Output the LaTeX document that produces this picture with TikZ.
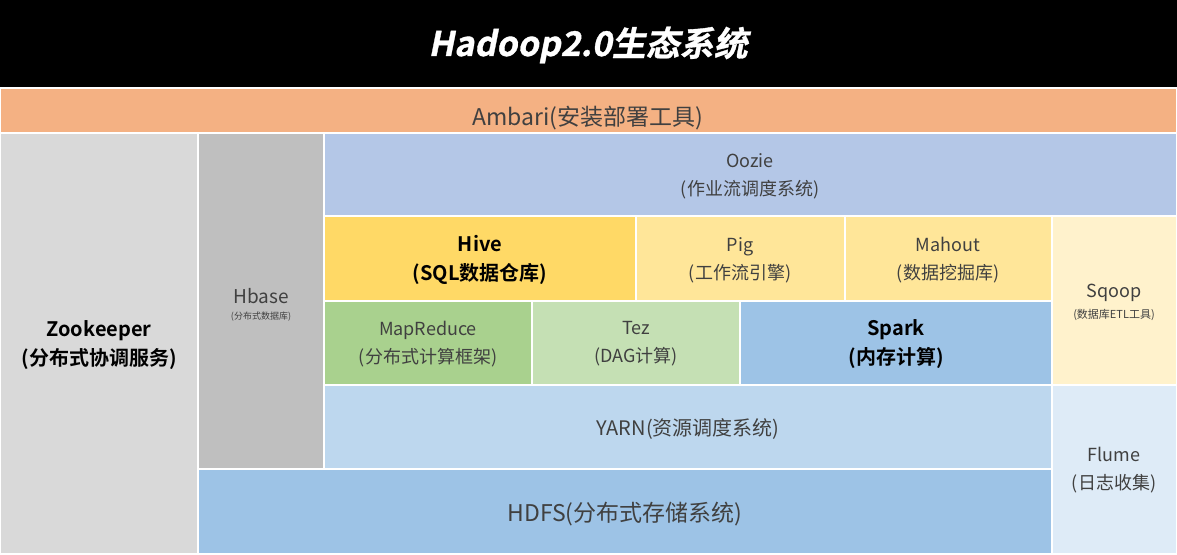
\documentclass[tikz,border=0pt]{standalone}
\usepackage{fontspec}
\setmainfont{Noto Sans CJK SC}
\newfontfamily\titlefont[FakeSlant=0.2,FakeBold=1]{Noto Sans CJK SC Bold}
\newfontfamily\bfcjk{Noto Sans CJK SC Bold}
\definecolor{cAmb}{RGB}{244,177,131}
\definecolor{cZk}{RGB}{217,217,217}
\definecolor{cHb}{RGB}{191,191,191}
\definecolor{cOz}{RGB}{180,199,231}
\definecolor{cHive}{RGB}{255,217,102}
\definecolor{cPig}{RGB}{255,230,153}
\definecolor{cSq}{RGB}{255,242,204}
\definecolor{cMr}{RGB}{169,209,142}
\definecolor{cTez}{RGB}{197,224,180}
\definecolor{cSp}{RGB}{157,195,230}
\definecolor{cYarn}{RGB}{189,215,238}
\definecolor{cFl}{RGB}{222,235,247}
\begin{document}
\begin{tikzpicture}[x=1pt,y=-1pt,
 cell/.style={draw=white,line width=1.5pt},
 lbl/.style={align=center,text=black!75,inner sep=0pt},
 blbl/.style={align=center,text=black,inner sep=0pt,font=\bfcjk\fontsize{20}{29}\selectfont}]
\useasboundingbox (0,0) rectangle (1177,554);
\fill[black] (0,0) rectangle (1177,88);
\node[text=white,inner sep=0pt,font=\titlefont\fontsize{34}{40}\selectfont] (title) at (588,45) {Hadoop2.0生态系统};
\fill[cAmb] (0,88) rectangle (1177,133);
\draw[cell] (0,88) rectangle (1177,133);
\node[lbl,font=\fontsize{23}{28}\selectfont] (ambari) at (588,118) {Ambari(安装部署工具)};
\fill[cZk] (0,133) rectangle (198,554); \draw[cell] (0,133) rectangle (198,554);
\node[blbl] (zk) at (99,345) {Zookeeper\\(分布式协调服务)};
\fill[cHb] (198,133) rectangle (324,469); \draw[cell] (198,133) rectangle (324,469);
\node[lbl,font=\fontsize{19}{22}\selectfont] (hbase) at (261,296) {Hbase};
\node[lbl,font=\fontsize{9}{11}\selectfont] (hbase2) at (261,317) {(分布式数据库)};
\fill[cOz] (324,133) rectangle (1177,216); \draw[cell] (324,133) rectangle (1177,216);
\node[lbl,font=\fontsize{18}{28}\selectfont] (oozie) at (750,176) {Oozie\\(作业流调度系统)};
\fill[cHive] (324,216) rectangle (636,301); \draw[cell] (324,216) rectangle (636,301);
\node[blbl] (hive) at (480,260) {Hive\\(SQL数据仓库)};
\fill[cPig] (636,216) rectangle (845,301); \draw[cell] (636,216) rectangle (845,301);
\node[lbl,font=\fontsize{18}{28}\selectfont] (pig) at (740,260) {Pig\\(工作流引擎)};
\fill[cPig] (845,216) rectangle (1052,301); \draw[cell] (845,216) rectangle (1052,301);
\node[lbl,font=\fontsize{18}{28}\selectfont] (mahout) at (948,260) {Mahout\\(数据挖掘库)};
\fill[cSq] (1052,216) rectangle (1177,385); \draw[cell] (1052,216) rectangle (1177,385);
\node[lbl,font=\fontsize{18}{22}\selectfont] (sqoop) at (1114,293) {Sqoop};
\node[lbl,font=\fontsize{11}{13}\selectfont] (sqoop2) at (1114,315) {(数据库ETL工具)};
\fill[cMr] (324,301) rectangle (532,385); \draw[cell] (324,301) rectangle (532,385);
\node[lbl,font=\fontsize{18}{28}\selectfont] (mr) at (428,344) {MapReduce\\(分布式计算框架)};
\fill[cTez] (532,301) rectangle (740,385); \draw[cell] (532,301) rectangle (740,385);
\node[lbl,font=\fontsize{18}{28}\selectfont] (tez) at (636,344) {Tez\\(DAG计算)};
\fill[cSp] (740,301) rectangle (1052,385); \draw[cell] (740,301) rectangle (1052,385);
\node[blbl] (spark) at (896,344) {Spark\\(内存计算)};
\fill[cYarn] (324,385) rectangle (1052,469); \draw[cell] (324,385) rectangle (1052,469);
\node[lbl,font=\fontsize{20}{24}\selectfont] (yarn) at (688,429) {YARN(资源调度系统)};
\fill[cFl] (1052,385) rectangle (1177,554); \draw[cell] (1052,385) rectangle (1177,554);
\node[lbl,font=\fontsize{18}{28}\selectfont] (flume) at (1114,470) {Flume\\(日志收集)};
\fill[cSp] (198,469) rectangle (1052,554); \draw[cell] (198,469) rectangle (1052,554);
\node[lbl,font=\fontsize{23}{28}\selectfont] (hdfs) at (625,514) {HDFS(分布式存储系统)};
\end{tikzpicture}
\end{document}
